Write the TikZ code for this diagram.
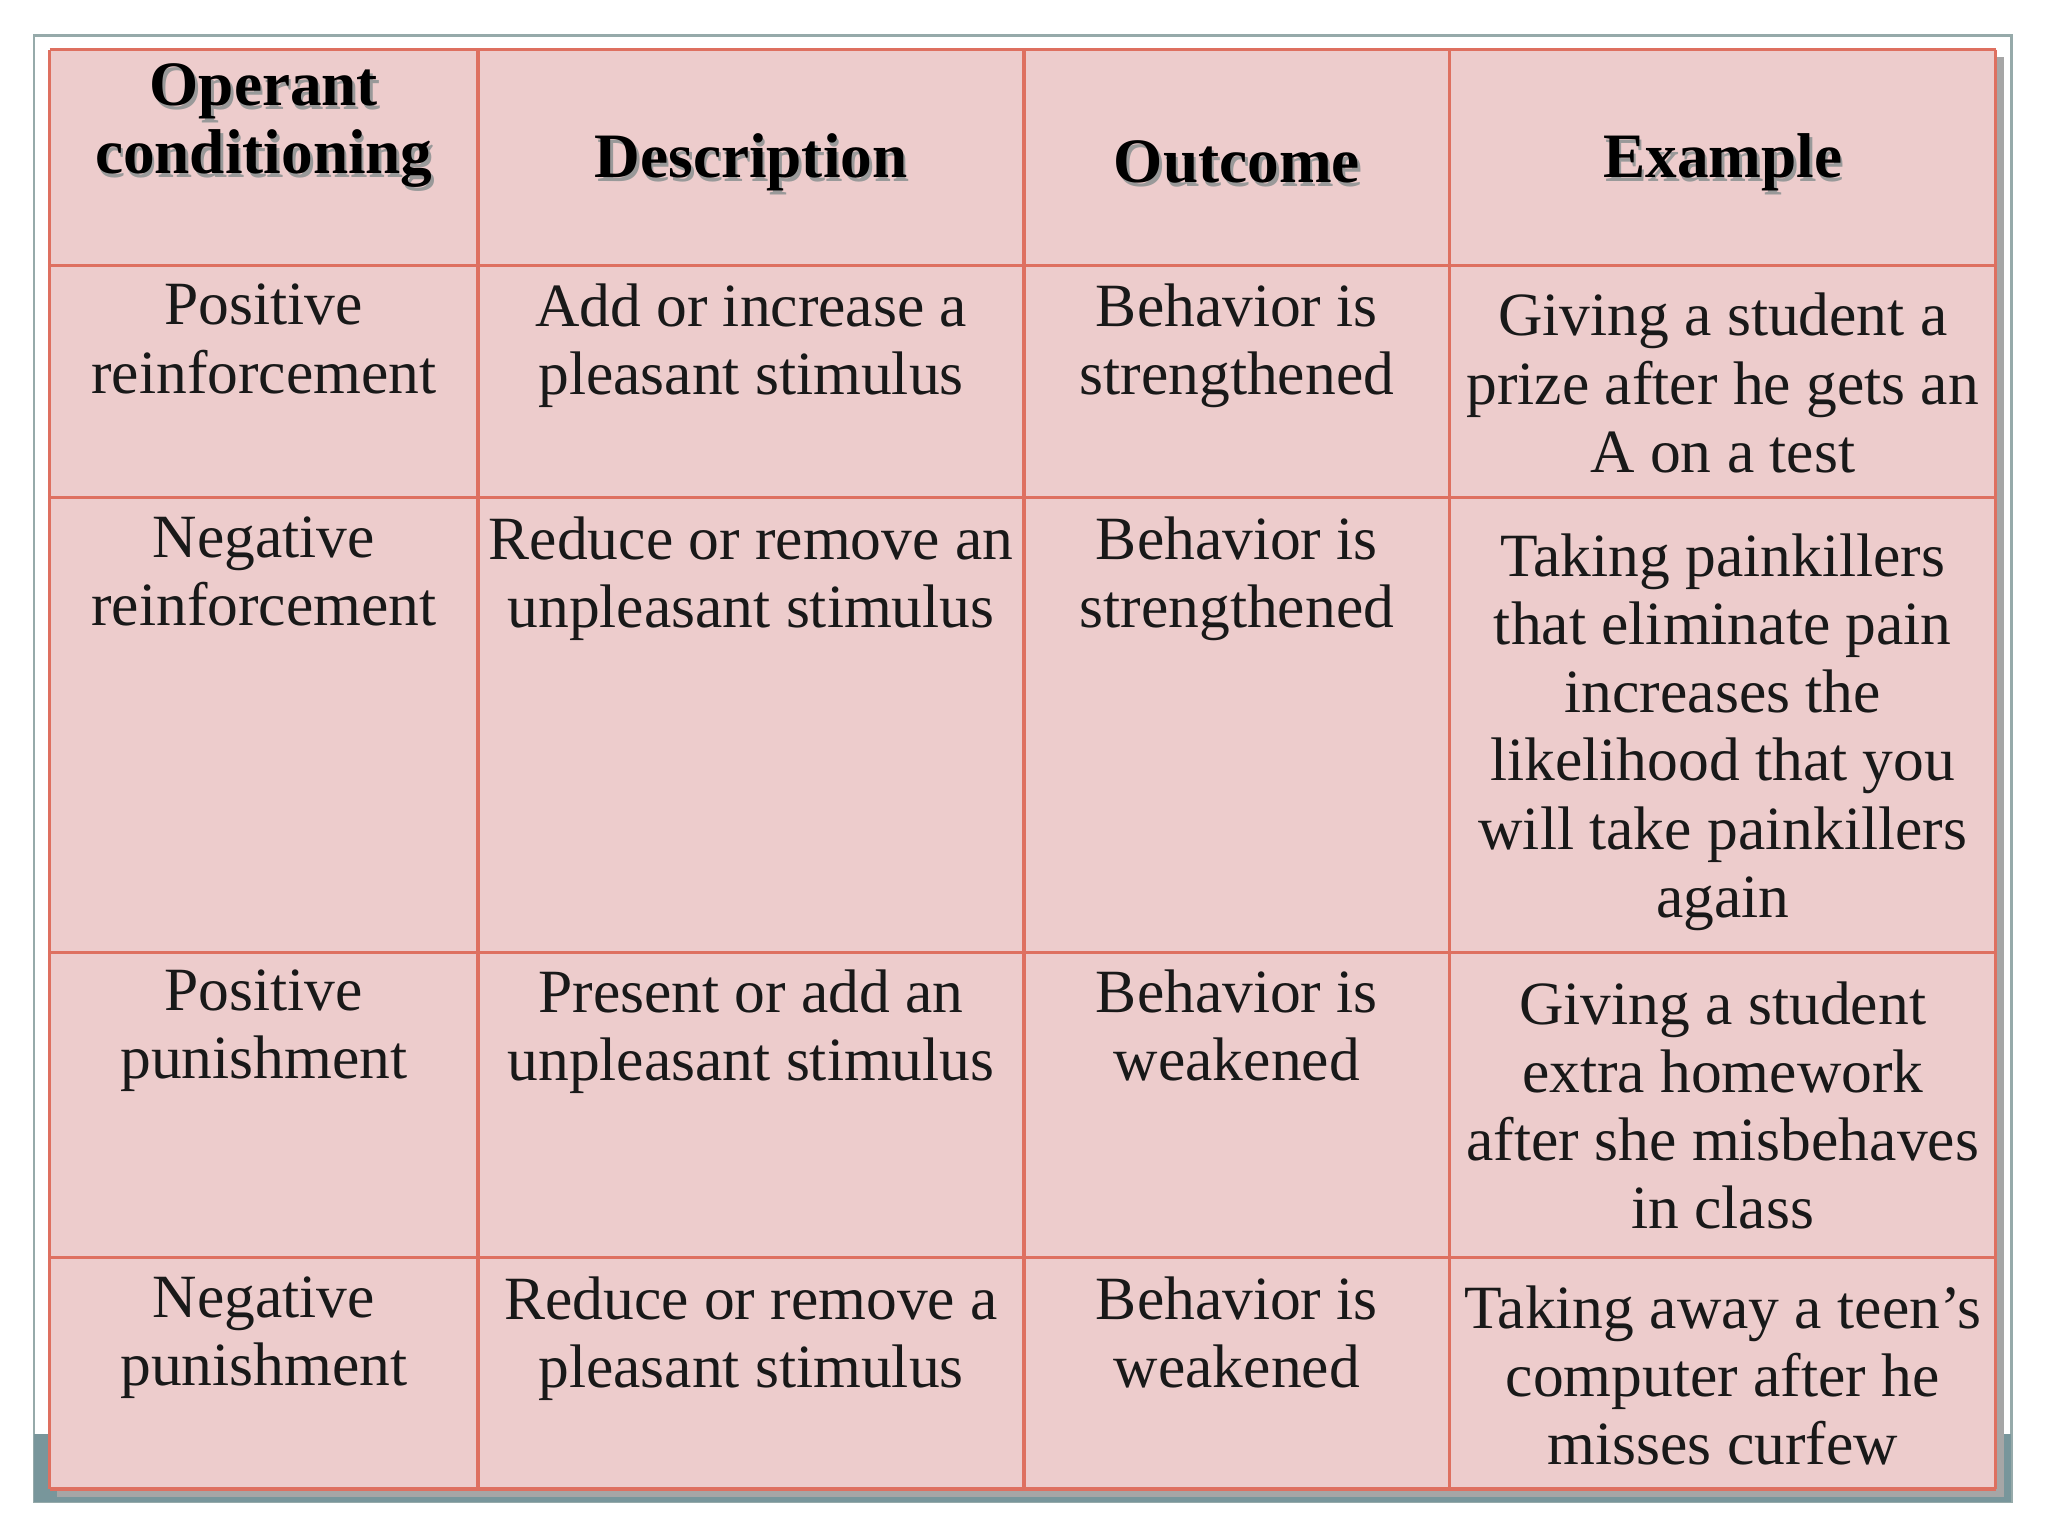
\documentclass[tikz,border=0pt]{standalone}
\usepackage{fontspec}
\setmainfont{Liberation Serif}
\begin{document}
\begin{tikzpicture}[x=0.013061cm,y=-0.013061cm,
  cell/.style={anchor=north,align=center,inner sep=0pt,font=\fontsize{17.5}{19.4}\selectfont,text=black!90},
  head/.style={anchor=center,align=center,inner sep=0pt,font=\fontsize{18}{19.4}\selectfont\bfseries}]
\definecolor{pinkfill}{RGB}{237,204,204}
\definecolor{gridred}{RGB}{222,112,96}
\definecolor{frame}{RGB}{150,170,170}
\definecolor{bar}{RGB}{120,150,155}
\useasboundingbox (0,0) rectangle (1568,1176);
\fill[white] (0,0) rectangle (1568,1176);
\draw[frame,line width=0.8pt] (26,27) rectangle (1540,1150);
\fill[bar] (26,1098) rectangle (1540,1150);
\fill[black!35] (44,44) rectangle (1534,1146);
\fill[pinkfill] (38,38) rectangle (1528,1140);
\foreach \x in {38,366,784,1110,1528} \draw[gridred,line width=0.9pt] (\x,38) -- (\x,1140);
\foreach \y in {38,203,381,729,963,1140} \draw[gridred,line width=0.9pt] (38,\y) -- (1528,\y);
% headers
\foreach \n/\x/\y/\t in {h1/202/96/{Operant\\conditioning},h2/575/124/Description,h3/947/124/Outcome,h4/1319/124/Example}{
  \node[head,text=black!40] at (\x+2,\y+3) {\t};
  \node[head] (\n) at (\x,\y) {\t};}
% row 1
\node[cell] (a1) at (202,217) {Positive\\reinforcement};
\node[cell] (b1) at (575,217) {Add or increase a\\pleasant stimulus};
\node[cell] (c1) at (947,217) {Behavior is\\strengthened};
\node[cell] (d1) at (1319,224) {Giving a student a\\prize after he gets an\\A on a test};
% row 2
\node[cell] (a2) at (202,395) {Negative\\reinforcement};
\node[cell] (b2) at (575,395) {Reduce or remove an\\unpleasant stimulus};
\node[cell] (c2) at (947,395) {Behavior is\\strengthened};
\node[cell] (d2) at (1319,408) {Taking painkillers\\that eliminate pain\\increases the\\likelihood that you\\will take painkillers\\again};
% row 3
\node[cell] (a3) at (202,742) {Positive\\punishment};
\node[cell] (b3) at (575,742) {Present or add an\\unpleasant stimulus};
\node[cell] (c3) at (947,742) {Behavior is\\weakened};
\node[cell] (d3) at (1319,751) {Giving a student\\extra homework\\after she misbehaves\\in class};
% row 4
\node[cell] (a4) at (202,977) {Negative\\punishment};
\node[cell] (b4) at (575,977) {Reduce or remove a\\pleasant stimulus};
\node[cell] (c4) at (947,977) {Behavior is\\weakened};
\node[cell] (d4) at (1319,984) {Taking away a teen’s\\computer after he\\misses curfew};
\end{tikzpicture}
\end{document}
